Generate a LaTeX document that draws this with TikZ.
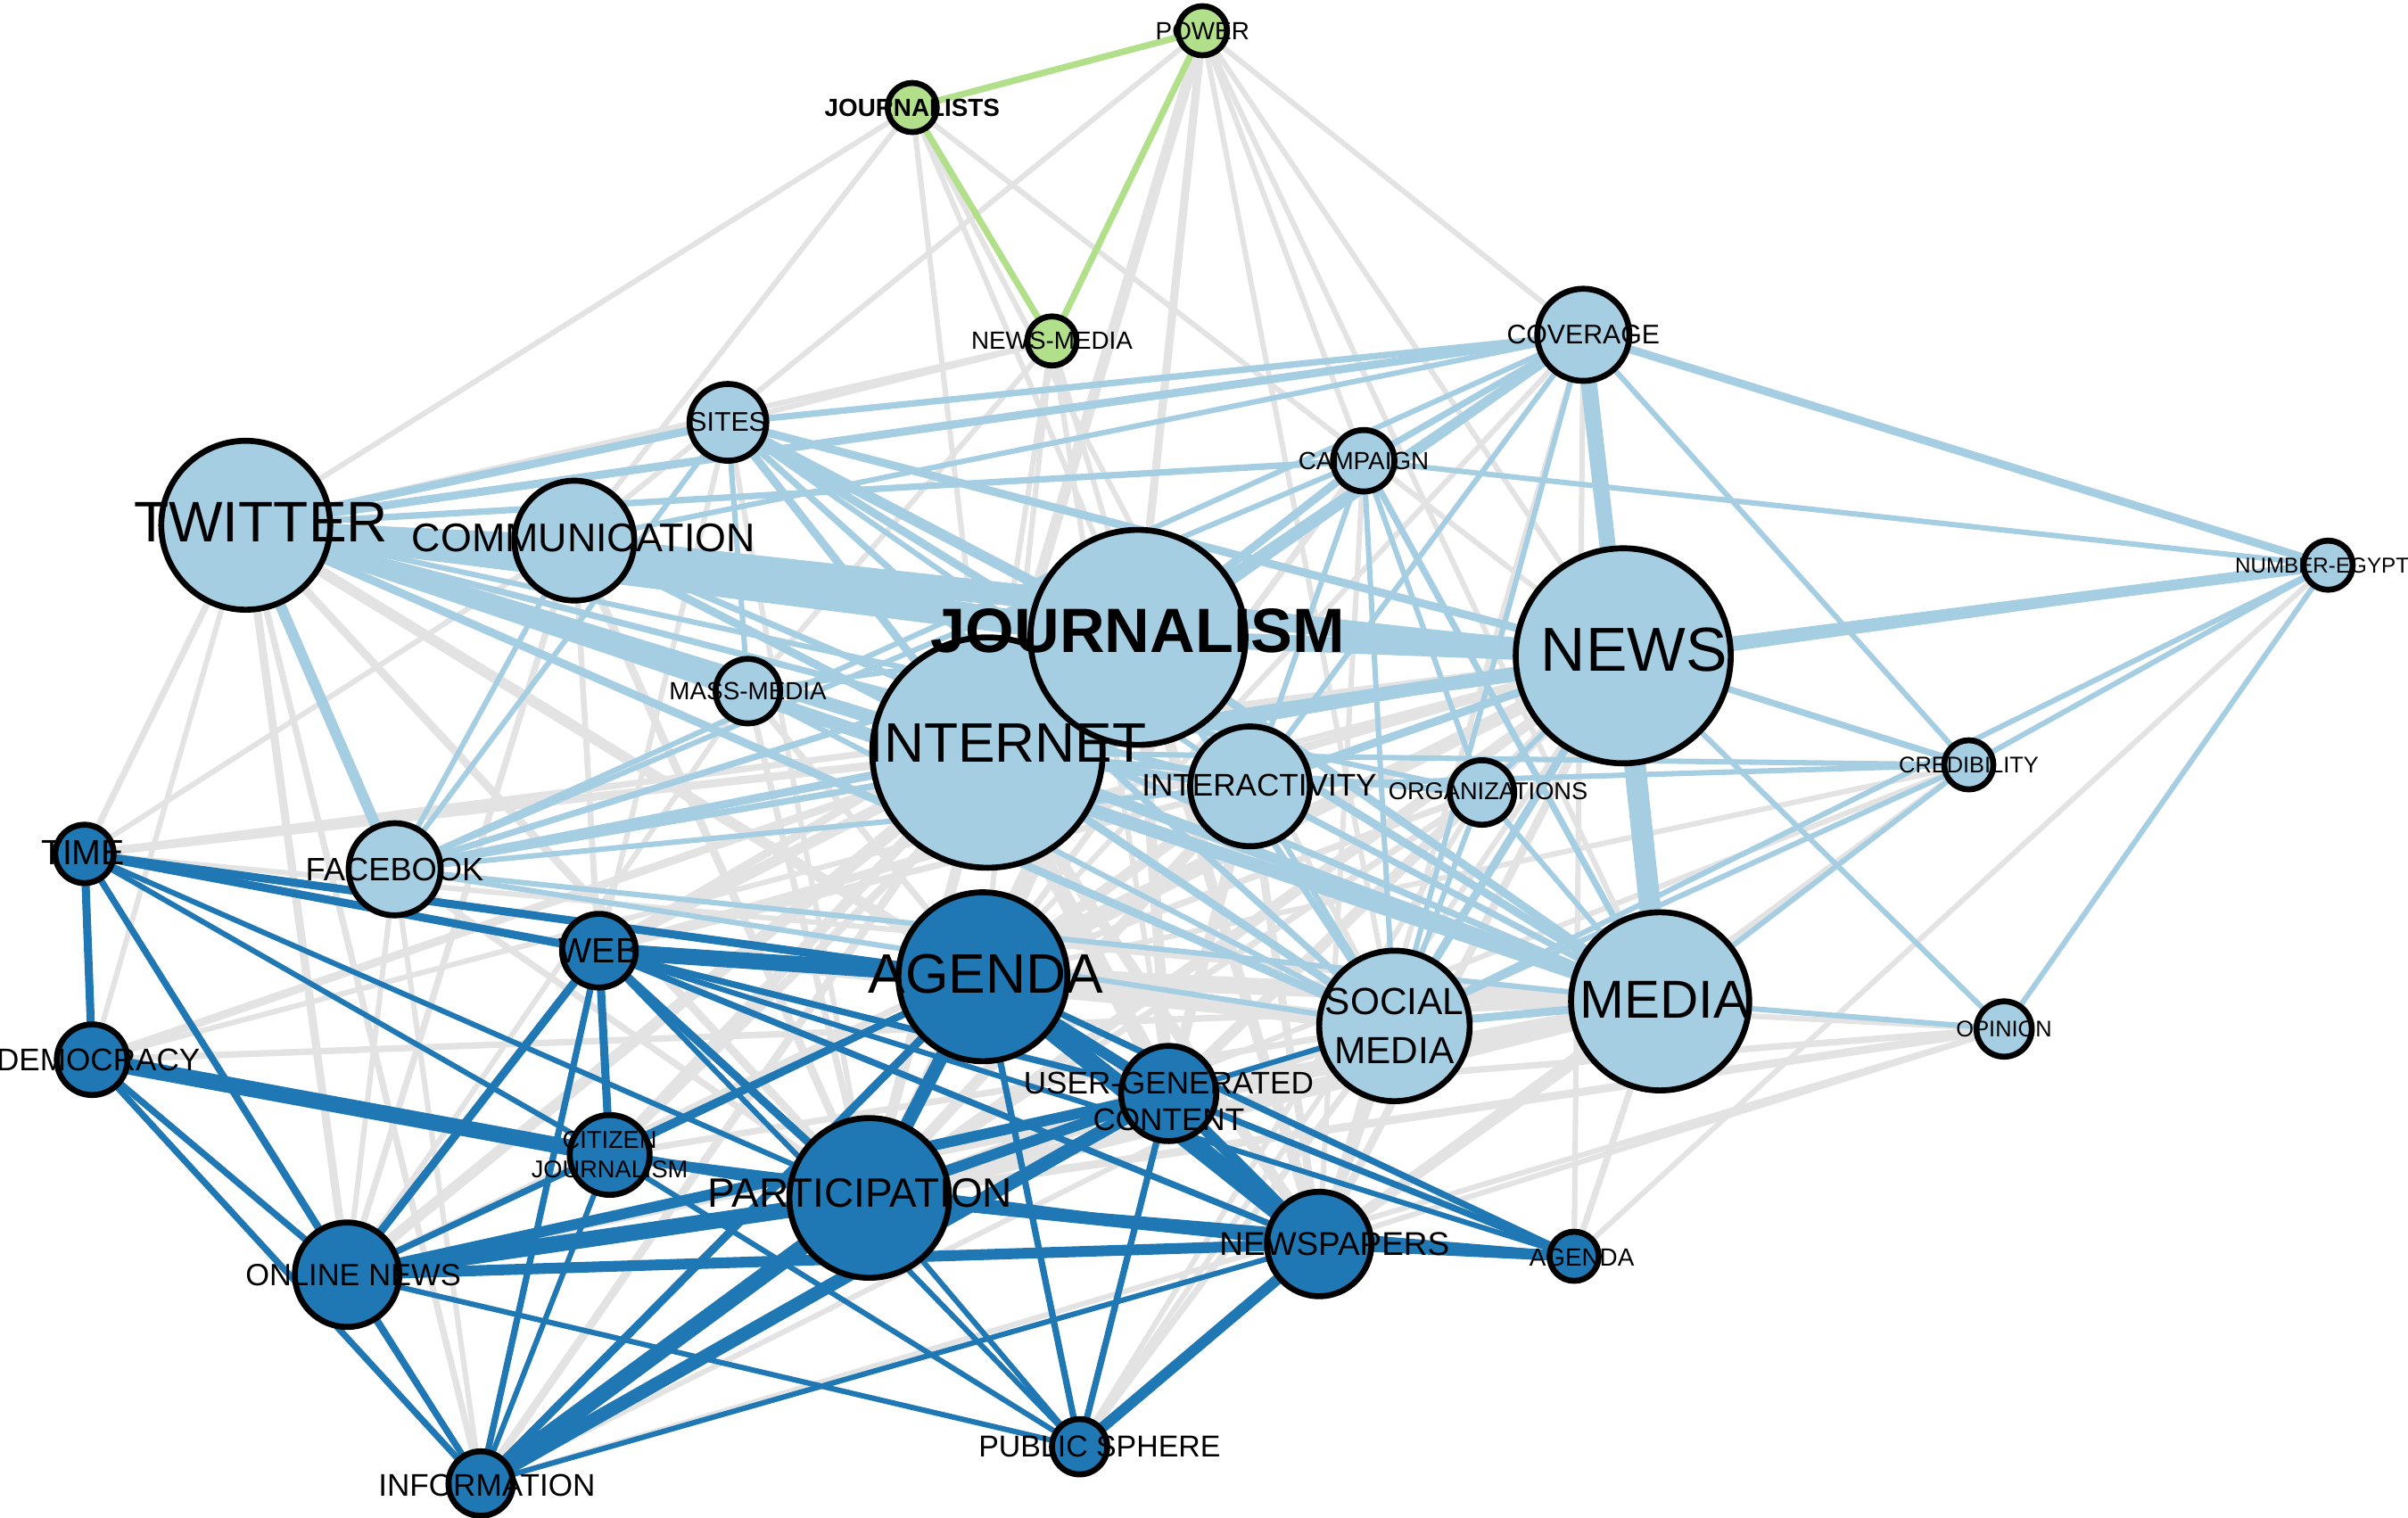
\documentclass[tikz,border=0pt]{standalone}
\usepackage{fontspec}
\setmainfont{Liberation Sans}
\definecolor{lb}{HTML}{A6CEE3}
\definecolor{db}{HTML}{1F78B4}
\definecolor{gr}{HTML}{B2DF8A}
\definecolor{gy}{HTML}{E3E3E3}
\begin{document}
\begin{tikzpicture}[x=0.1mm,y=-0.1mm,
 nd/.style={circle,draw=black,line width=1.1pt,inner sep=0pt},
 lab/.style={inner sep=0pt,font=\fontsize{#1}{#1}\selectfont},
 lab/.default=5]
\useasboundingbox[fill=white] (0,0) rectangle (1568,988);
% coordinates
\foreach \n/\x/\y in {pow/783/20,jst/594/70,nm/685/222,cov/1031/218,sit/474/275,cam/888/300,tw/160/342,com/374/352,ne/1516/368,jm/741/415,news/1057/427,mm/487/450,int/643/490,ia/814/512,org/965/516,cred/1282/498,fb/257/566,time/55/556,web/390/619,ag/640/636,med/1081/652,sm/908/668,op/1305/670,dem/60/690,ugc/761/712,cit/397/752,par/566/780,on/226/830,np/859/810,ag2/1025/818,ps/703/942,inf/313/966}
 \coordinate (\n) at (\x,\y);
% gray edges
\foreach \a/\b/\w in {jst/tw/1,jst/int/1,jst/jm/1,jst/com/1,jst/news/1,jst/sm/1,pow/cam/1,pow/news/1,pow/jm/1.5,pow/int/2,pow/med/1,pow/cov/1,pow/com/1,pow/sm/1,nm/int/1,nm/ag/1,nm/sit/1,nm/tw/1,nm/ugc/1,nm/np/1,nm/mm/1,
 tw/time/1.2,tw/on/1.5,tw/inf/1.2,tw/ag/2,tw/par/1.5,tw/dem/1,com/on/1.2,com/web/1,com/par/1.5,com/cit/1,com/time/1,
 int/on/2,int/par/2,int/web/2,int/cit/2,int/ugc/3,int/np/2,int/time/1.5,int/dem/1.5,int/inf/1.5,
 jm/ag/3,jm/par/2,jm/np/2,jm/ugc/2,jm/web/1.5,jm/cit/1.5,jm/on/1.5,
 news/ag/2.5,news/par/2,news/ugc/2,news/np/1.5,news/web/1.5,news/on/1.2,news/time/1.2,news/dem/1,
 med/ag/3,med/par/3,med/ugc/2,med/np/2,med/web/1.5,med/on/1.5,med/ag2/1.2,med/dem/1.2,med/time/1,
 sm/ag/3,sm/par/2,sm/np/2,sm/web/1.5,sm/cit/1.2,sm/ps/1.2,sm/inf/1,
 ia/ag/2,ia/par/2,ia/np/1.5,ia/ugc/2,ia/web/1.2,
 org/ag/1.2,org/par/1.2,org/ps/1,op/ag/1,op/par/1.5,op/ugc/1.2,op/np/1,cred/ag/1,cred/np/1.2,cred/par/1,
 mm/ag/1.2,mm/on/1,mm/par/1.2,sit/web/1,sit/par/1,fb/inf/1,fb/par/1.2,fb/on/1,cam/ag/1.2,cam/np/1,cov/ag/1,cov/np/1,ne/ag2/1,op/inf/1,ag2/med/1,cov/ag2/1,news/ps/1}
 \draw[gy,line width=\w pt] (\a) -- (\b);
% light blue edges
\foreach \a/\b/\w in {tw/jm/4.5,tw/news/3,tw/int/2.5,tw/com/2,tw/sit/1.5,tw/cov/1.5,tw/fb/2,tw/med/2.5,tw/sm/1.5,tw/cam/1.2,tw/mm/1.2,tw/ia/1.2,tw/org/1,
 com/news/2,com/jm/2,com/int/1.5,com/fb/1,com/cov/1,com/med/1.2,sit/jm/2,sit/news/1.5,sit/int/1.5,sit/cov/1.2,sit/med/1.5,sit/ia/1,sit/sm/1.2,sit/mm/1,sit/fb/1,
 cov/news/1.5,cov/med/3,cov/jm/1.5,cov/int/1.5,cov/cred/1,cov/ne/1.5,cov/cam/1.2,cov/sm/1,cov/ia/1,cov/fb/1,
 news/med/4,news/ne/2,news/cred/1.2,news/int/2,news/jm/3,news/ia/1.5,news/sm/1.5,news/org/1,news/fb/1.2,news/op/1,
 ne/cred/1,ne/op/1,ne/cam/1,ne/int/1,ne/sm/1,cred/med/1,cred/sm/1,cred/int/1,cred/ia/1,
 cam/jm/1.5,cam/int/1.2,cam/sm/1,cam/med/1.2,cam/ia/1,cam/org/1,cam/fb/1,
 jm/int/3,jm/med/1.5,jm/fb/1.2,jm/sm/1.2,jm/mm/1,int/med/2,int/sm/1.5,int/fb/1.5,int/ia/1.5,int/org/1.2,
 ia/med/1.2,ia/sm/1,org/med/1,org/sm/1,mm/med/1,mm/sm/1,fb/med/1,fb/sm/1,fb/ia/1,med/sm/1.5,med/op/1,fb/news/1}
 \draw[lb,line width=\w pt] (\a) -- (\b);
% dark blue edges
\foreach \a/\b/\w in {time/web/1.5,time/ag/1.5,time/dem/1.5,time/on/1.2,time/inf/1,time/cit/1,time/par/1,
 web/ag/3,web/on/1.5,web/cit/1.5,web/par/1.5,web/inf/1.2,web/np/1.2,web/ugc/1.2,web/ps/1,
 ag/ugc/2,ag/par/2.5,ag/np/3.5,ag/inf/1.5,ag/on/1.2,ag/ps/1.2,ag/cit/1.2,
 dem/cit/3,dem/on/1.2,dem/inf/1.2,dem/par/1.2,cit/par/1.5,cit/ps/1,cit/np/1.2,cit/inf/1,
 on/par/3,on/np/2,on/ugc/2,on/inf/1.2,on/ps/1,par/ugc/2,par/np/1.5,par/inf/3,par/ag2/1.5,par/ps/1,
 ugc/np/2,ugc/inf/2.5,ugc/ag2/1.2,ugc/ps/1.2,ugc/sm/1,np/ag2/2,np/ps/2,np/inf/1,web/ag2/1,ag/ag2/1.2}
 \draw[db,line width=\w pt] (\a) -- (\b);
\draw[gr,line width=1.2pt] (jst)--(pow) (jst)--(nm) (pow)--(nm);
% nodes
\foreach \n/\d/\c in {pow/32/gr,jst/32/gr,nm/32/gr,cov/60/lb,sit/50/lb,cam/40/lb,tw/110/lb,com/78/lb,ne/32/lb,news/140/lb,mm/42/lb,int/150/lb,jm/140/lb,ia/78/lb,org/42/lb,cred/32/lb,fb/60/lb,time/38/db,web/48/db,ag/110/db,med/116/lb,sm/98/lb,op/36/lb,dem/46/db,ugc/62/db,cit/52/db,par/104/db,on/68/db,np/68/db,ag2/32/db,ps/36/db,inf/42/db}
 \node[nd,fill=\c,minimum size=\d*0.1mm] at (\n) {};
% labels
\node[lab=4.6,font=\bfseries\fontsize{4.6}{4.6}\selectfont] at (jst) {JOURNALISTS};
\node[lab=4.6] at (pow) {POWER};
\node[lab=4.6] at (nm) {NEWS-MEDIA};
\node[lab=5] at (cov) {COVERAGE};
\node[lab=5] at (sit) {SITES};
\node[lab=4.6] at (cam) {CAMPAIGN};
\node[lab=10.6] at (170,340) {TWITTER};
\node[lab=7.4] at (380,350) {COMMUNICATION};
\node[lab=4] at (1512,368) {NUMBER-EGYPT};
\node[lab=11.6,font=\bfseries\fontsize{11.6}{11.6}\selectfont] at (741,411) {JOURNALISM};
\node[lab=11.5] at (1064,423) {NEWS};
\node[lab=4.6] at (mm) {MASS-MEDIA};
\node[lab=10.3] at (656,484) {INTERNET};
\node[lab=5.8] at (820,511) {INTERACTIVITY};
\node[lab=4.5] at (969,515) {ORGANIZATIONS};
\node[lab=4.2] at (cred) {CREDIBILITY};
\node[lab=6] at (257,566) {FACEBOOK};
\node[lab=6.5] at (54,555) {TIME};
\node[lab=6.5] at (web) {WEB};
\node[lab=10.3] at (642,634) {AGENDA};
\node[lab=9.9] at (1084,651) {MEDIA};
\node[lab=7,align=center] at (908,668) {SOCIAL\\[2pt]MEDIA};
\node[lab=4.2] at (op) {OPINION};
\node[lab=5.8] at (64,690) {DEMOCRACY};
\node[lab=5.8,align=center] at (761,717) {USER-GENERATED\\[1pt]CONTENT};
\node[lab=4.5,align=center] at (397,752) {CITIZEN\\[1pt]JOURNALISM};
\node[lab=7.6] at (560,777) {PARTICIPATION};
\node[lab=5.7] at (230,830) {ONLINE NEWS};
\node[lab=6.1] at (869,810) {NEWSPAPERS};
\node[lab=4.6] at (1030,819) {AGENDA};
\node[lab=5.6] at (716,942) {PUBLIC SPHERE};
\node[lab=5.8] at (317,967) {INFORMATION};
\end{tikzpicture}
\end{document}
